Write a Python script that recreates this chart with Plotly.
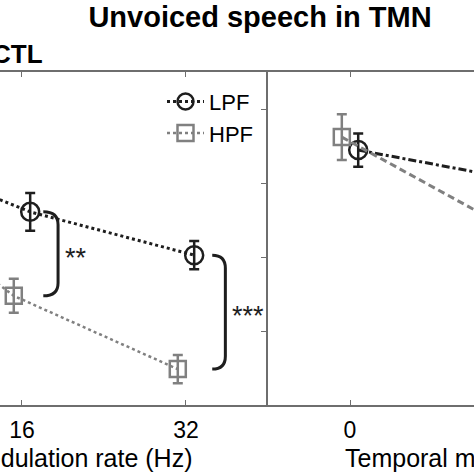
"""Unvoiced speech in TMN - CTL panel"""
import numpy as np
import plotly.graph_objects as go

# left panel: modulation rate (Hz)
rates = [8, 16, 32]
lpf_rate = [70.0, 52.2, 40.5]
lpf_rate_err = [5.0, 5.1, 3.8]
hpf_rate = [63.4, 29.5, 9.7]
hpf_rate_err = [5.0, 4.6, 3.8]

# right panel: temporal modulation condition
depth = [0, 1]
depth_labels = ['0', '1']
lpf_depth = [68.9, 60.6]
lpf_depth_err = [4.5, 4.0]
hpf_depth = [72.4, 48.1]
hpf_depth_err = [6.2, 5.0]

# significance between LPF and HPF at 16 and 32 Hz
sig_rates = [16, 32]
sig_labels = ['**', '***']

DARK = '#1e1e1e'
GRAY = '#808080'
AXIS = '#6e6e6e'
FONT = 'Liberation Sans, Arial, sans-serif'
JIT = 0.05  # horizontal offset of LPF / HPF markers

x_rate = np.log2(rates)
fig = go.Figure()

fig.add_trace(go.Scatter(
    x=x_rate + JIT, y=lpf_rate, name='LPF', mode='lines+markers',
    line=dict(color=DARK, width=3, dash='dot'),
    marker=dict(symbol='circle-open', size=18, color=DARK, line=dict(width=2.5, color=DARK)),
    error_y=dict(type='data', array=lpf_rate_err, color=DARK, thickness=2.5, width=5),
    xaxis='x', yaxis='y'))
fig.add_trace(go.Scatter(
    x=x_rate - JIT, y=hpf_rate, name='HPF', mode='lines+markers',
    line=dict(color=GRAY, width=2.5, dash='dot'),
    marker=dict(symbol='square-open', size=16, color=GRAY, line=dict(width=2.5, color=GRAY)),
    error_y=dict(type='data', array=hpf_rate_err, color=GRAY, thickness=2.5, width=5),
    xaxis='x', yaxis='y'))

x_depth = np.array(depth, dtype=float)
fig.add_trace(go.Scatter(
    x=x_depth + JIT, y=lpf_depth, name='LPF', mode='lines+markers', showlegend=False,
    line=dict(color=DARK, width=3, dash='8px,3px,3px,3px'),
    marker=dict(symbol='circle-open', size=18, color=DARK, line=dict(width=2.5, color=DARK)),
    error_y=dict(type='data', array=lpf_depth_err, color=DARK, thickness=2.5, width=5),
    xaxis='x2', yaxis='y2'))
fig.add_trace(go.Scatter(
    x=x_depth - JIT, y=hpf_depth, name='HPF', mode='lines+markers', showlegend=False,
    line=dict(color=GRAY, width=3, dash='7px,4px'),
    marker=dict(symbol='square-open', size=16, color=GRAY, line=dict(width=2.5, color=GRAY)),
    error_y=dict(type='data', array=hpf_depth_err, color=GRAY, thickness=2.5, width=5),
    xaxis='x2', yaxis='y2'))

# brackets with stars
bracket_end = [0.13, 0.16]
bracket_mid = [0.22, 0.24]
shapes = []
annotations = []
for i, rate in enumerate(sig_rates):
    k = rates.index(rate)
    xe = np.log2(rate) + bracket_end[i]
    xm = np.log2(rate) + bracket_mid[i]
    yt, yb = lpf_rate[k], hpf_rate[k]
    r = 3.5
    shapes.append(dict(
        type='path', xref='x', yref='y', line=dict(color=DARK, width=3),
        path=f"M {xe},{yt} Q {xm},{yt} {xm},{yt - r} L {xm},{yb + r} Q {xm},{yb} {xe},{yb}"))
    annotations.append(dict(
        xref='x', yref='y', x=xm + 0.03, y=(yt + yb) / 2, text=sig_labels[i],
        xanchor='left', yanchor='middle', yshift=-4, showarrow=False,
        font=dict(family=FONT, size=27, color=DARK)))

annotations += [
    dict(xref='paper', yref='paper', x=45 / 474, y=1.054, text='<b>CTL</b>',
         xanchor='right', yanchor='middle', showarrow=False,
         font=dict(family=FONT, size=26, color='black')),
    dict(xref='paper', yref='paper', x=194 / 474, y=-0.159, text='Modulation rate (Hz)',
         xanchor='right', yanchor='middle', showarrow=False,
         font=dict(family=FONT, size=25, color='black')),
    dict(xref='paper', yref='paper', x=343 / 474, y=-0.159, text='Temporal modulation depth',
         xanchor='left', yanchor='middle', showarrow=False,
         font=dict(family=FONT, size=25, color='black')),
]

xcommon = dict(showline=True, linecolor=AXIS, linewidth=1.5, mirror='allticks',
               ticks='inside', ticklen=5, tickcolor=AXIS, showgrid=False, zeroline=False,
               ticklabelstandoff=4, tickfont=dict(family=FONT, size=23, color='black'))

fig.update_layout(
    width=474, height=474,
    margin=dict(l=0, r=0, t=72, b=69),
    paper_bgcolor='white', plot_bgcolor='white',
    title=dict(text='<b>Unvoiced speech in TMN</b>', x=260 / 474, xanchor='center',
               y=1 - 17 / 474, yanchor='middle', font=dict(family=FONT, size=29, color='black')),
    xaxis=dict(domain=[0, 268 / 474], range=[3.866, 5.5], tickvals=list(np.log2([16, 32])),
               ticktext=['16', '32'], **xcommon),
    yaxis=dict(domain=[0, 1], range=[0, 90], showline=False, showticklabels=False,
               ticks='', showgrid=False, zeroline=False),
    xaxis2=dict(domain=[268 / 474, 1], range=[-0.5, 0.756], anchor='y2',
                tickvals=depth, ticktext=depth_labels, **xcommon),
    yaxis2=dict(domain=[0, 1], range=[0, 90], anchor='x2', showline=True, linecolor=AXIS,
                linewidth=1.5, ticks='outside', ticklen=5, tickcolor=AXIS,
                tickvals=[20, 40, 60, 80], showticklabels=False, showgrid=False, zeroline=False),
    legend=dict(x=162 / 474, y=0.974, xanchor='left', yanchor='top', itemwidth=37,
                bgcolor='rgba(0,0,0,0)', font=dict(family=FONT, size=22, color='black')),
    shapes=shapes, annotations=annotations,
    showlegend=True,
)

# no page margin, so the figure sits at the window's top-left corner
fig.write_html("out.html", config={'displayModeBar': False},
               post_script="document.body.style.margin = '0';")
